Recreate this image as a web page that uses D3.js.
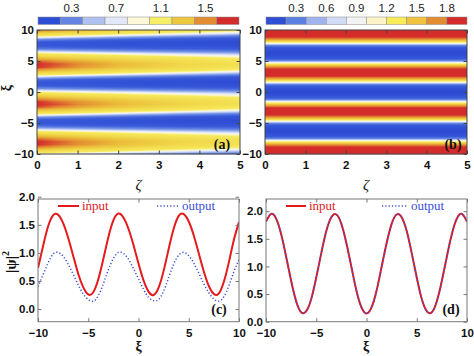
<!DOCTYPE html>
<html><head><meta charset="utf-8">
<script src="https://cdn.jsdelivr.net/npm/d3@7"></script>
<style>
body{margin:0;background:#fff;}
svg{display:block;}
.tick text{font-family:"Liberation Sans",Arial,sans-serif;font-weight:bold;font-size:11.5px;fill:#111;}
</style>
</head><body>
<svg id="chart" width="474" height="356"></svg>
<script>
// ---------- data ----------
const xiSamples = d3.range(-10, 10.001, 0.5);           // ξ sample positions
// panel (c): input and output intensity |ψ|² vs ξ
const inputC  = [0.73,1.12,1.47,1.67,1.68,1.53,1.27,0.95,0.63,0.39,0.26,0.30,0.53,0.89,1.28,1.58,1.70,1.63,1.43,1.14,0.81,
                 0.51,0.31,0.25,0.38,0.68,1.07,1.43,1.66,1.69,1.56,1.31,0.99,0.67,0.41,0.27,0.28,0.49,0.84,1.24,1.55];
const outputC = [0.40,0.61,0.82,0.98,1.01,0.94,0.80,0.62,0.43,0.27,0.17,0.14,0.24,0.45,0.70,0.90,1.01,0.99,0.89,0.72,0.54,
                 0.35,0.21,0.15,0.17,0.32,0.56,0.80,0.96,1.01,0.95,0.82,0.64,0.45,0.29,0.18,0.14,0.22,0.42,0.67,0.88];
// panel (d): input and output coincide
const inputD  = [1.81,1.95,1.87,1.59,1.18,0.74,0.37,0.17,0.19,0.41,0.80,1.24,1.64,1.89,1.94,1.77,1.42,0.99,0.56,0.26,0.15,
                 0.26,0.56,0.99,1.42,1.77,1.94,1.89,1.64,1.24,0.80,0.41,0.19,0.17,0.37,0.74,1.18,1.59,1.87,1.95,1.81];
const outputD = [1.81,1.95,1.87,1.59,1.18,0.74,0.37,0.17,0.19,0.41,0.80,1.24,1.64,1.89,1.94,1.77,1.42,0.99,0.56,0.26,0.15,
                 0.26,0.56,0.99,1.42,1.77,1.94,1.89,1.64,1.24,0.80,0.41,0.19,0.17,0.37,0.74,1.18,1.59,1.87,1.95,1.81];
// panel (a): peak intensity along ζ (decay from input to output)
const zetaCols  = [0,0.5,1,1.5,2,2.5,3,3.5,4,4.5,5];
const peakAlong = [1.70,1.60,1.51,1.43,1.35,1.28,1.22,1.16,1.11,1.06,1.01];
// colour bars
const barColorsA = ["#2d4fd6","#6585e4","#b0c0f0","#e3e8f8","#fcf8d8","#f8ee66","#edc73c","#e38c32","#d42b2b"];
const barColorsB = ["#2d4fd6","#5a7fe3","#9fb3ef","#d3dcf7","#f3f3f3","#fdf5c8","#f8ec5a","#efc33d","#e38c32","#d42b2b"];
const barTicksA = [0.3,0.7,1.1,1.5];
const barTicksB = [0.3,0.6,0.9,1.2,1.5,1.8];
const zetaTicks = [0,1,2,3,4,5];
const xiTicks = [-10,-5,0,5,10];
const psiTicks = [0,0.5,1,1.5,2];

// heatmap colour maps (value -> colour), as seen in the density plots
const heatStopsA  = [0.10,0.32,0.48,0.60,0.69,0.76,0.86,1.12,1.32,1.50,1.66];
const heatColorsA = ["#2a48d2","#3a5cda","#6d8de5","#b9c8f2","#eef0f8","#fbf6cf","#f6ea5c","#f1d94a","#ebbf3a","#e38c32","#d42b2b"];
const heatStopsB  = [0.10,0.55,0.78,0.90,1.00,1.10,1.24,1.42,1.62,1.80];
const heatColorsB = ["#2a48d2","#3a5cda","#6d8de5","#b9c8f2","#f2f2f4","#fdf4c4","#f7ea58","#efc33d","#e38c32","#d42b2b"];

// ---------- setup ----------
const svg = d3.select("#chart");
const defs = svg.append("defs");
const SANS = '"Liberation Sans",Arial,sans-serif';
const SERIF = '"Liberation Serif","Times New Roman",serif';

const colA = d3.scaleLinear().domain(heatStopsA).range(heatColorsA).clamp(true);
const colB = d3.scaleLinear().domain(heatStopsB).range(heatColorsB).clamp(true);

function sampleAt(arr, xi){
  const t = (xi - xiSamples[0]) / 0.5;
  const i0 = Math.max(0, Math.min(arr.length-2, Math.floor(t)));
  const f = t - i0;
  return arr[i0] + (arr[i0+1]-arr[i0]) * f;
}

const topY = d3.scaleLinear([-10,10],[154,30]);
const xA = d3.scaleLinear([0,5],[37,240]);
const xB = d3.scaleLinear([0,5],[265,467]);

// ---------- heatmap (a) ----------
const wCols = peakAlong.map(p => (peakAlong[0]-p)/(peakAlong[0]-peakAlong[peakAlong.length-1]));
const gA = svg.append("g");
for(let py = 30; py < 154; py++){
  const xi = topY.invert(py + 0.5);
  const vin = sampleAt(inputC, xi), vout = sampleAt(outputC, xi);
  const id = "ga" + py;
  const lg = defs.append("linearGradient").attr("id", id).attr("x1",0).attr("x2",1).attr("y1",0).attr("y2",0);
  zetaCols.forEach((z,j)=>{
    const v = vin + (vout - vin) * wCols[j];
    lg.append("stop").attr("offset", z/5).attr("stop-color", colA(v));
  });
  gA.append("rect").attr("x", xA(0)).attr("y", py).attr("width", xA(5)-xA(0)).attr("height", 1.3)
    .attr("fill", `url(#${id})`);
}
// ---------- heatmap (b) ----------
const gB = svg.append("g");
for(let py = 30; py < 154; py++){
  const xi = topY.invert(py + 0.5);
  gB.append("rect").attr("x", xB(0)).attr("y", py).attr("width", xB(5)-xB(0)).attr("height", 1.3)
    .attr("fill", colB(sampleAt(inputD, xi)));
}

function frame(x, y, color){
  const [x0,x1] = x.range(), [y0,y1] = y.range();
  svg.append("rect").attr("x", x0).attr("y", y1).attr("width", x1-x0).attr("height", y0-y1)
    .attr("fill","none").attr("stroke", color).attr("stroke-width", 1);
}
function axes(x, y, xt, yt, xfmt, yfmt, color){
  const [x0,x1] = x.range(), [y0,y1] = y.range();
  const ab = svg.append("g").attr("transform", `translate(0,${y0})`)
    .call(d3.axisBottom(x).tickValues(xt).tickFormat(xfmt).tickSizeInner(-3.5).tickSizeOuter(0).tickPadding(7));
  const at = svg.append("g").attr("transform", `translate(0,${y1})`)
    .call(d3.axisTop(x).tickValues(xt).tickFormat("").tickSizeInner(-3.5).tickSizeOuter(0));
  const al = svg.append("g").attr("transform", `translate(${x0},0)`)
    .call(d3.axisLeft(y).tickValues(yt).tickFormat(yfmt).tickSizeInner(-3.5).tickSizeOuter(0).tickPadding(3));
  const ar = svg.append("g").attr("transform", `translate(${x1},0)`)
    .call(d3.axisRight(y).tickValues(yt).tickFormat("").tickSizeInner(-3.5).tickSizeOuter(0));
  [ab,at,al,ar].forEach(g=>{ g.select(".domain").remove(); g.selectAll("line").attr("stroke", color); });
  frame(x, y, color);
}
axes(xA, topY, zetaTicks, xiTicks, d3.format("d"), d3.format("d"), "#444");
axes(xB, topY, zetaTicks, xiTicks, d3.format("d"), d3.format("d"), "#444");

// colour bars
function colorBar(x0, x1, maxV, colors, ticks){
  const s = d3.scaleLinear([0, maxV], [x0, x1]);
  svg.append("g").selectAll("rect").data(colors).join("rect")
    .attr("x", (d,i)=>s(i*0.2)).attr("y", 17).attr("width", (d,i)=>s(Math.min(maxV,(i+1)*0.2))-s(i*0.2)).attr("height", 7.5)
    .attr("fill", d=>d).attr("stroke", "#8a8a8a").attr("stroke-width", 0.5);
  svg.append("g").selectAll("text").data(ticks).join("text")
    .attr("x", d=>s(d)).attr("y", 12).attr("text-anchor","middle")
    .attr("font-family", SANS).attr("font-size", 11.5).attr("fill","#222").text(d=>d3.format(".1f")(d));
}
colorBar(38, 239, 1.8, barColorsA, barTicksA);
colorBar(266, 467, 2.0, barColorsB, barTicksB);

// ---------- line panels ----------
const xC = d3.scaleLinear([-10,10],[38,239]);
const yC = d3.scaleLinear([-0.225,1.96],[321.7,199]);
const xD = d3.scaleLinear([-10,10],[266,467]);
const yD = d3.scaleLinear([0,2.22],[321.7,199]);

function linePanel(x, y, inp, out, id){
  const [x0,x1] = x.range(), [y0,y1] = y.range();
  defs.append("clipPath").attr("id", id).append("rect").attr("x", x0).attr("y", y1).attr("width", x1-x0).attr("height", y0-y1);
  const line = d3.line().x((d,i)=>x(xiSamples[i])).y(d=>y(d)).curve(d3.curveNatural);
  const g = svg.append("g").attr("clip-path", `url(#${id})`);
  g.append("path").attr("d", line(inp)).attr("fill","none").attr("stroke","#e41a1c").attr("stroke-width", 2);
  g.append("path").attr("d", line(out)).attr("fill","none").attr("stroke","#3a4fd8").attr("stroke-width", 1.5)
    .attr("stroke-dasharray","1.2,2.1");
}
linePanel(xC, yC, inputC, outputC, "clipC");
linePanel(xD, yD, inputD, outputD, "clipD");
axes(xC, yC, xiTicks, psiTicks, d3.format("d"), d3.format(".1f"), "#777");
axes(xD, yD, xiTicks, psiTicks, d3.format("d"), d3.format(".1f"), "#777");

// legends
function legend(lx0, lx1, tx, ox0, ox1, otx, yy){
  svg.append("line").attr("x1", lx0).attr("x2", lx1).attr("y1", yy).attr("y2", yy).attr("stroke","#e41a1c").attr("stroke-width",2);
  svg.append("text").attr("x", tx).attr("y", yy+4).attr("font-family", SERIF).attr("font-size", 13).attr("fill","#e41a1c").text("input");
  svg.append("line").attr("x1", ox0).attr("x2", ox1).attr("y1", yy).attr("y2", yy).attr("stroke","#3a4fd8").attr("stroke-width",1.5).attr("stroke-dasharray","1.2,2.1");
  svg.append("text").attr("x", otx).attr("y", yy+4).attr("font-family", SERIF).attr("font-size", 13).attr("fill","#3a4fd8").text("output");
}
legend(58, 79, 82, 157, 180, 182, 206);
legend(286, 306, 309, 382, 408, 411, 206);

// panel labels
[["(a)",222,149],["(b)",453,149],["(c)",219,314],["(d)",451,314]].forEach(([t,x,y])=>{
  svg.append("text").attr("x",x).attr("y",y).attr("text-anchor","middle").attr("font-family",SERIF)
    .attr("font-weight","bold").attr("font-size",14).attr("fill","#111").text(t);
});

// axis titles
[[138.5],[366]].forEach(([x])=>{
  svg.append("text").attr("x",x).attr("y",190).attr("text-anchor","middle").attr("font-family",SERIF)
    .attr("font-style","italic").attr("font-size",15).attr("fill","#111").text("ζ");
  svg.append("text").attr("x",x).attr("y",351).attr("text-anchor","middle").attr("font-family",SERIF)
    .attr("font-weight","bold").attr("font-size",14).attr("fill","#111").text("ξ");
});
svg.append("text").attr("transform","translate(11,88) rotate(-90)").attr("text-anchor","middle")
  .attr("font-family",SERIF).attr("font-weight","bold").attr("font-size",14).attr("fill","#111").text("ξ");
const psiLab = svg.append("text").attr("transform","translate(16,262) rotate(-90)").attr("text-anchor","middle")
  .attr("font-family",SERIF).attr("font-weight","bold").attr("font-size",15).attr("fill","#111");
psiLab.append("tspan").text("|ψ|");
psiLab.append("tspan").attr("dy",-7).attr("font-size",10).text("2");
</script>
</body></html>
